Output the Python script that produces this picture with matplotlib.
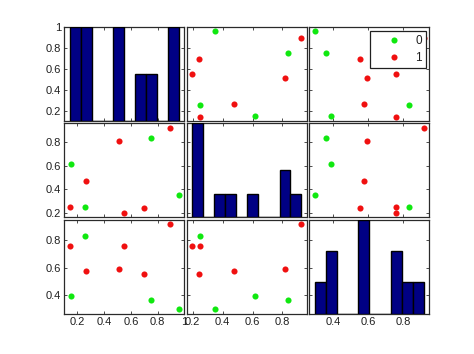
import numpy as np
import matplotlib
matplotlib.use('Agg')
import matplotlib.pyplot as plt
from matplotlib.ticker import FormatStrFormatter

# ---- data ----
x1 = [0.143, 0.152, 0.261, 0.258, 0.510, 0.546, 0.698, 0.753, 0.891, 0.959]
x2 = [0.252, 0.615, 0.475, 0.252, 0.815, 0.198, 0.243, 0.837, 0.926, 0.352]
x3 = [0.756, 0.388, 0.574, 0.832, 0.590, 0.761, 0.554, 0.360, 0.918, 0.293]
group = [1, 0, 1, 0, 1, 1, 1, 0, 1, 0]
group_names = ['0', '1']
group_colors = ['#10e810', '#f01010']
var_ticks = [[0.2, 0.4, 0.6, 0.8, 1.0],
             [0.2, 0.4, 0.6, 0.8],
             [0.4, 0.6, 0.8]]
n_bins = 10

plt.rcParams['font.family'] = ['Liberation Sans', 'DejaVu Sans']
plt.rcParams['font.size'] = 8

data = [np.asarray(x1), np.asarray(x2), np.asarray(x3)]
grp = np.asarray(group)
nv = len(data)

fig, axes = plt.subplots(nv, nv, figsize=(4.74, 3.54), dpi=100,
                         gridspec_kw=dict(left=0.1357, right=0.9057,
                                          top=0.9237, bottom=0.1138,
                                          wspace=0.02, hspace=0.028))

lims = []
for v in data:
    r = v.max() - v.min()
    lims.append((v.min() - 0.05 * r, v.max() + 0.05 * r))

text_col = '#202020'
for i in range(nv):
    for j in range(nv):
        ax = axes[i, j]
        if i == j:
            axh = ax.twinx()
            n, _, _ = axh.hist(data[j], bins=n_bins, color='#000084',
                               edgecolor='black', linewidth=1.0)
            axh.set_ylim(0, n.max())
            axh.set_yticks([])
            axh.tick_params(right=False, labelright=False)
            for s in axh.spines.values():
                s.set_visible(False)
        else:
            for g, name in enumerate(group_names):
                m = grp == g
                ax.plot(data[j][m], data[i][m], 'o', ls='none',
                        color=group_colors[g], ms=4.4, mew=0, label=name)
        ax.set_xlim(lims[j])
        ax.set_ylim(lims[i])
        ax.set_xticks(var_ticks[j])
        ax.set_yticks(var_ticks[i])
        ax.xaxis.set_major_formatter(FormatStrFormatter('%g'))
        ax.yaxis.set_major_formatter(FormatStrFormatter('%g'))
        ax.tick_params(direction='in', length=2.5, width=0.6,
                       top=True, right=True, colors='#303030',
                       labelcolor=text_col, labelsize=8, pad=2.5,
                       labelbottom=(i == nv - 1), labelleft=(j == 0))
        for s in ax.spines.values():
            s.set_color('#2a2a2a')
            s.set_linewidth(0.9)

leg = axes[0, nv - 1].legend(loc='upper right', frameon=True, fancybox=False,
                             edgecolor='#202020', fontsize=8.5,
                             handlelength=3.4, handletextpad=0.1,
                             borderpad=0.35, labelspacing=0.45,
                             borderaxespad=0.3, markerscale=1.0)
leg.get_frame().set_linewidth(0.9)
leg.get_frame().set_alpha(1)
for t in leg.get_texts():
    t.set_color(text_col)

fig.savefig('out.png', dpi=100)
